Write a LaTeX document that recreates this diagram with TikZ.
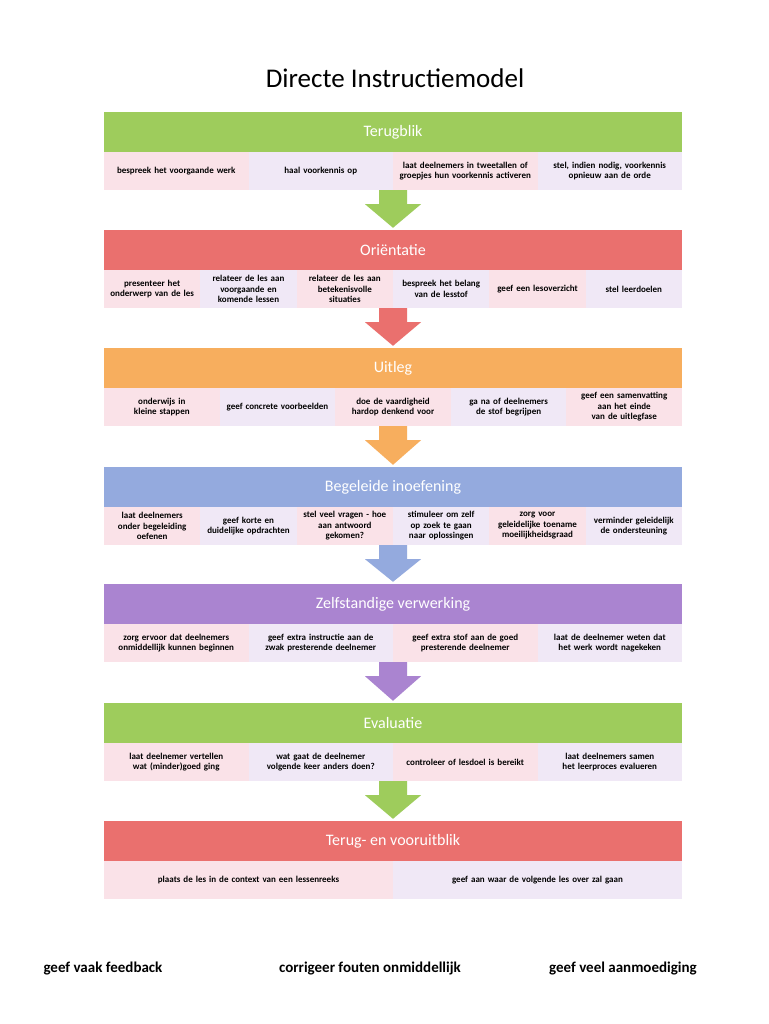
\documentclass[tikz,border=0pt]{standalone}
\usepackage{fontspec}
\setmainfont{Carlito}
\usetikzlibrary{calc}
\definecolor{cgreen}{RGB}{158,204,92}
\definecolor{cred}{RGB}{234,112,110}
\definecolor{corange}{RGB}{247,174,94}
\definecolor{cblue}{RGB}{148,170,222}
\definecolor{cpurple}{RGB}{170,132,208}
\definecolor{cpink}{RGB}{250,226,232}
\definecolor{clav}{RGB}{240,232,246}
\tikzset{
  bar/.style={fill=#1, minimum width=578pt, minimum height=40pt, inner sep=0pt, text=white, font=\fontsize{16}{18}\selectfont},
  cellbox/.style={minimum height=38pt, inner sep=1pt, align=center, font=\bfseries\fontsize{9}{10.5}\selectfont},
  foot/.style={font=\bfseries\fontsize{15}{17}\selectfont},
}
\hyphenpenalty=10000
\exhyphenpenalty=10000
\newcommand\dimsec[5]{% id, ytop, color, title, list
  \node[bar=#3] (#1bar) at (393,#2+20) {#4};
  \foreach \t [count=\i] in {#5} {\xdef\cnt{\i}}
  \pgfmathsetmacro\w{578/\cnt}
  \pgfmathsetmacro\tw{min(\w-12,240)}
  \foreach \t [count=\i] in {#5} {
    \pgfmathsetmacro\cx{104+(\i-0.5)*\w}
    \pgfmathtruncatemacro\odd{mod(\i,2)}
    \ifnum\odd=1 \def\fc{cpink}\else\def\fc{clav}\fi
    \node[cellbox, fill=\fc, minimum width=\w pt, text width=\tw pt] (#1c\i) at (\cx,#2+59) {\t};
  }
}
\begin{document}
\begin{tikzpicture}[x=1pt,y=-1pt]
\useasboundingbox[fill=white] (0,0) rectangle (768,1024);
\node[font=\fontsize{27}{30}\selectfont] (title) at (395,78) {Directe Instructiemodel};
\dimsec{a}{112}{cgreen}{Terugblik}{bespreek het voorgaande werk, haal voorkennis op, laat deelnemers in tweetallen of groepjes hun voorkennis activeren, {stel, indien nodig, voorkennis opnieuw aan de orde}}
\dimsec{b}{230}{cred}{Oriëntatie}{presenteer het onderwerp van de les, relateer de les aan voorgaande en komende lessen, relateer de les aan betekenisvolle situaties, bespreek het belang van de lesstof, geef een lesoverzicht, stel leerdoelen}
\dimsec{c}{348}{corange}{Uitleg}{onderwijs in kleine stappen, geef concrete voorbeelden, doe de vaardigheid hardop denkend voor, ga na of deelnemers de stof begrijpen, geef een samenvatting aan het einde van de uitlegfase}
\dimsec{d}{467}{cblue}{Begeleide inoefening}{laat deelnemers onder begeleiding oefenen, geef korte en duidelijke opdrachten, stel veel vragen - hoe aan antwoord gekomen?, stimuleer om zelf op zoek te gaan naar oplossingen, zorg voor geleidelijke toename moeilijkheidsgraad, verminder geleidelijk de ondersteuning}
\dimsec{e}{584}{cpurple}{Zelfstandige verwerking}{zorg ervoor dat deelnemers onmiddellijk kunnen beginnen, geef extra instructie aan de zwak presterende deelnemer, geef extra stof aan de goed presterende deelnemer, laat de deelnemer weten dat het werk wordt nagekeken}
\dimsec{f}{703}{cgreen}{Evaluatie}{laat deelnemer vertellen wat (minder)goed ging, wat gaat de deelnemer volgende keer anders doen?, controleer of lesdoel is bereikt, laat deelnemers samen het leerproces evalueren}
\dimsec{g}{821}{cred}{Terug- en vooruitblik}{plaats de les in de context van een lessenreeks, geef aan waar de volgende les over zal gaan}
\foreach \s/\n/\c in {a/b/cgreen,b/c/cred,c/d/corange,d/e/cblue,e/f/cpurple,f/g/cgreen}{
  \path (\s bar.south) ++(0,38) coordinate (\s top);
  \path (\n bar.north) ++(0,-2) coordinate (\s tip);
  \fill[\c] ($(\s top)+(-14,0)$) -- ($(\s top)+(14,0)$) -- ($(\s top)+(14,14)$) -- ($(\s top)+(28,14)$)
    -- (\s tip) -- ($(\s top)+(-28,14)$) -- ($(\s top)+(-14,14)$) -- cycle;
}
\node[foot] (fb1) at (103,968) {geef vaak feedback};
\node[foot] (fb2) at (370,968) {corrigeer fouten onmiddellijk};
\node[foot] (fb3) at (623,968) {geef veel aanmoediging};
\end{tikzpicture}
\end{document}
